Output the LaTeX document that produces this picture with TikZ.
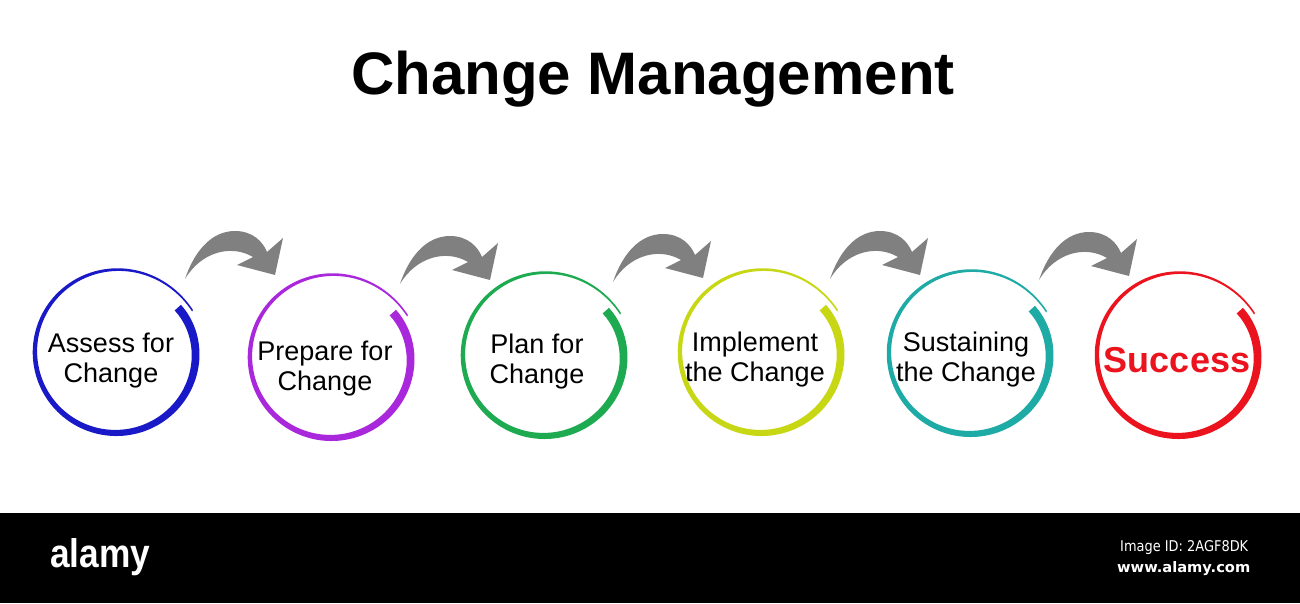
\documentclass[tikz,border=0pt]{standalone}
\usepackage{fontspec}
\setmainfont{Liberation Sans}
\newfontfamily\wmfont{DejaVu Sans}
\usepackage{graphicx}

\definecolor{ringblue}{RGB}{25,25,200}
\definecolor{ringpurple}{RGB}{170,40,220}
\definecolor{ringgreen}{RGB}{30,170,80}
\definecolor{ringlime}{RGB}{200,215,20}
\definecolor{ringteal}{RGB}{30,170,165}
\definecolor{ringred}{RGB}{235,20,30}
\definecolor{arrowgray}{RGB}{128,128,128}

% brush-stroke ring round a coordinate
\newcommand\ring[2]{%
  \fill[#2, shift={(#1)}]
    plot[domain=0:1, samples=150, variable=\u] ({36-368*\u}:{ringR(\u)+ringW(\u)/2})
    -- plot[domain=1:0, samples=150, variable=\u] ({36-368*\u}:{ringR(\u)-ringW(\u)/2})
    -- cycle;}

% fat curved arrow, placed from the ring on its left
\newcommand\fatarrow[1]{%
  \fill[arrowgray, shift={(#1)}] (69,73) .. controls (78,100) and (95,121) .. (119,121)
    .. controls (137,121) and (147,110) .. (151,100)
    -- (167,114) -- (159,77) -- (121,87) -- (137,95)
    .. controls (115,108) and (85,100) .. (69,73) -- cycle;}

\tikzset{
  stagetext/.style={font=\fontsize{27}{30}\selectfont, align=center, inner sep=0pt},
}

\begin{document}
\begin{tikzpicture}[x=1pt, y=1pt,
    declare function={ringR(\t)=81-5*(1-\t)^12+6*\t^8; ringW(\t)=8.5-7*\t;}]
    \useasboundingbox (0,0) rectangle (1300,603);
    \fill[white] (0,0) rectangle (1300,603);

    \node[anchor=base, font=\fontsize{60}{72}\selectfont\bfseries] (title) at (653,508) {Change Management};

    % ring centres
    \coordinate (r1) at (116,251);
    \coordinate (r2) at (331,246);
    \coordinate (r3) at (544,248);
    \coordinate (r4) at (761,251);
    \coordinate (r5) at (970,250);
    \coordinate (r6) at (1178,248);

    \ring{r1}{ringblue}
    \ring{r2}{ringpurple}
    \ring{r3}{ringgreen}
    \ring{r4}{ringlime}
    \ring{r5}{ringteal}
    \ring{r6}{ringred}

    \fatarrow{r1}
    \fatarrow{r2}
    \fatarrow{r3}
    \fatarrow{r4}
    \fatarrow{r5}

    \node[stagetext] (assess)    at ([shift={(-5,-9)}]r1) {Assess for\\Change};
    \node[stagetext] (prepare)   at ([shift={(-6,-12)}]r2) {Prepare for\\Change};
    \node[stagetext] (plan)      at ([shift={(-7,-7)}]r3) {Plan for\\Change};
    \node[stagetext] (implement) at ([shift={(-6,-8)}]r4) {Implement\\the Change};
    \node[stagetext] (sustain)   at ([shift={(-4,-7)}]r5) {Sustaining\\the Change};
    \node[font=\fontsize{36}{40}\selectfont\bfseries, text=ringred, inner sep=0pt] (success) at ([shift={(-1,-5)}]r6) {Success};

    % watermark band
    \fill[black] (0,0) rectangle (1300,90);
    \node[anchor=base west, inner sep=0pt, text=white] (logo) at (50,36) {\resizebox{100pt}{29pt}{\bfseries alamy}};
    \node[anchor=base west, inner sep=0pt, text=white] (imageid) at (1120,52) {\resizebox{128pt}{11pt}{\wmfont Image ID: 2AGF8DK}};
    \node[anchor=base west, inner sep=0pt, text=white] (site) at (1117,31) {\resizebox{133pt}{11pt}{\wmfont\bfseries www.alamy.com}};
\end{tikzpicture}
\end{document}
